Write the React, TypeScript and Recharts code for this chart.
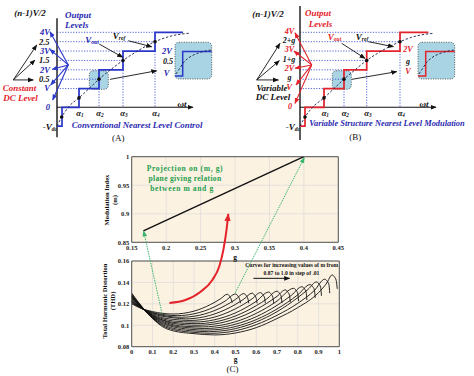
import React from 'react';
import { LineChart, Line, XAxis, YAxis, CartesianGrid, ReferenceArea } from 'recharts';

const SERIF = "'Liberation Serif', 'Times New Roman', serif";
const BLUE = '#2b37c8';
const RED = '#e4232b';
const TXT_BLUE = '#2a2ab0';
const DOT_BLUE = '#3d52d8';
const BOX_FILL = '#a9d4e4';
const GREEN = '#39b46c';
const GREEN_TXT = '#1f9e4e';

// ---------- (A) / (B): x = ωt units from the vertical axis, y = multiples of V
const panelXDomain = [-57, 180];
const panelYDomain = [-2.011, 5.723];
const alphaA = [22, 42, 66, 98];
const alphaB = [24, 44, 66.7, 100];
const stepXA = [0, 5, 22, 42, 66, 98, 126];
const stepXB = [0, 5, 24, 44, 66.7, 100, 128.4];
const stepY = [-1, 0, 1, 2, 3, 4, 4];
const refXA = [0, 4.7, 12, 22, 32, 42, 54, 66, 82, 98, 114, 132];
const refXB = [0, 5, 13.5, 24, 34, 44, 55.5, 66.7, 83, 100, 116, 134];
const refY = [-1, -0.52, 0.05, 0.5, 1.0, 1.5, 2.02, 2.5, 3.05, 3.5, 3.8, 3.95];
const refDotIdx = [1, 3, 5, 7, 9];
const levelY = [1, 1.5, 2, 2.5, 3, 3.5, 4];
const levelEnd = [0, 1, 1, 2, 2, 3, 3];
const zoomBox = [32.3, 51.3, 0.96, 1.95];
const insetBox = [118, 154.7, 1.51, 3.47];
const insetStepX = [118, 125.7, 154.7];
const insetStepY = [1.67, 2.97, 2.97];
const insetRefX = [119, 123, 126, 132, 140, 148, 154.7];
const insetRefY = [1.78, 2.1, 2.35, 2.65, 2.87, 3.0, 3.06];
const axisExtentA = [-1.6, 4.75];
const axisExtentB = [-1.75, 5.4];

// arrows: [x1, y1, x2, y2]
const fanOriginA = [11.3, 2.26];
const fanTipsA = [[-7, 4.03], [-7, 3.09], [-4.7, 2.03], [-6.3, 1.19], [-4.3, 0.39]];
const dcOriginA = [-43.7, 1.46];
const dcTipsA = [[-20.3, 3.32], [-22, 2.52], [-23.7, 1.46]];
const arrowsA = [[42.3, 3.37, 65.7, 2.67], [71.3, 3.55, 94.7, 3.23], [53, 1.49, 99.7, 1.95]];
const fanOriginB = [11.7, 2.26];
const fanTipsB = [[-5, 3.97], [-6, 3.0], [-5, 2.08], [-4, 1.19], [-5, 0.21]];
const dcOriginB = [-43.3, 1.46];
const dcTipsB = [[-20, 3.41], [-20.6, 2.49], [-21.6, 1.46]];
const arrowsB = [[41.7, 3.41, 65, 2.61], [68.4, 3.5, 93.4, 3.23], [51.7, 1.49, 96.7, 1.9]];

// ---------- (C) top: modulation index vs g
const gTicksTop = [0.15, 0.2, 0.25, 0.3, 0.35, 0.4, 0.45];
const mTicks = [0.85, 0.9, 0.95, 1];
const mgLineG = [0.167, 0.4];
const mgLineM = [0.87, 1.0];

// ---------- (C) bottom: THD vs g, one curve per m = 0.87 ... 1.00  [g, THD]
const gTicksBottom = [0, 0.1, 0.2, 0.3, 0.4, 0.5, 0.6, 0.7, 0.8, 0.9, 1];
const thdTicks = [0.08, 0.1, 0.12, 0.14, 0.16];
const m087 = [[0, .120], [.05, .1155], [.1, .1128], [.2, .1105], [.3, .1132], [.38, .1194], [.43, .125], [.46, .129], [.472, .127], [.48, .124], [.484, .121]];
const m088 = [[0, .121], [.05, .1155], [.1, .112], [.15, .110], [.22, .109], [.3, .1107], [.4, .1173], [.45, .1226], [.5, .1292], [.512, .1272], [.52, .1242], [.524, .1207]];
const m089 = [[0, .122], [.05, .1155], [.1, .1115], [.15, .1092], [.24, .1075], [.3, .1084], [.4, .1138], [.5, .1241], [.54, .1296], [.552, .1276], [.56, .1246], [.564, .1206]];
const m090 = [[0, .1225], [.05, .1155], [.1, .1108], [.15, .1083], [.2, .107], [.26, .106], [.3, .1064], [.4, .1106], [.5, .1195], [.54, .1244], [.58, .130], [.592, .128], [.6, .125], [.604, .1205]];
const m091 = [[0, .123], [.05, .1155], [.1, .110], [.15, .107], [.2, .1055], [.28, .1045], [.4, .1077], [.5, .1154], [.58, .1247], [.62, .1305], [.632, .1285], [.64, .1255], [.644, .1205]];
const m092 = [[0, .124], [.05, .116], [.1, .1095], [.15, .106], [.2, .104], [.3, .103], [.4, .1052], [.5, .1116], [.6, .1224], [.66, .131], [.672, .129], [.68, .126], [.684, .1205]];
const m093 = [[0, .125], [.05, .1162], [.1, .109], [.15, .105], [.2, .1027], [.31, .1015], [.4, .1031], [.5, .1087], [.6, .1183], [.65, .1245], [.7, .1318], [.712, .1298], [.72, .1268], [.724, .1208]];
const m094 = [[0, .1255], [.05, .1163], [.1, .1085], [.15, .1045], [.2, .1017], [.32, .100], [.4, .1012], [.5, .1061], [.6, .1147], [.7, .127], [.74, .133], [.752, .131], [.76, .128], [.764, .1215]];
const m095 = [[0, .126], [.05, .1163], [.1, .108], [.15, .1035], [.2, .1005], [.26, .099], [.34, .0985], [.4, .0992], [.5, .1033], [.6, .1111], [.7, .1226], [.78, .1345], [.792, .1325], [.8, .1295], [.804, .1225]];
const m096 = [[0, .127], [.05, .1165], [.1, .1077], [.15, .1025], [.2, .0995], [.27, .0978], [.35, .097], [.4, .0974], [.5, .101], [.6, .108], [.7, .1186], [.77, .1281], [.82, .136], [.832, .134], [.84, .131], [.844, .1235]];
const m097 = [[0, .1275], [.05, .1165], [.1, .1073], [.15, .1015], [.2, .0985], [.28, .0963], [.36, .0955], [.4, .0958], [.5, .0988], [.6, .1053], [.7, .1152], [.8, .1284], [.86, .138], [.872, .136], [.88, .133], [.884, .1255]];
const m098 = [[0, .128], [.05, .1167], [.1, .107], [.15, .1005], [.2, .0972], [.28, .095], [.37, .094], [.4, .0942], [.5, .0969], [.6, .1031], [.7, .1127], [.8, .1258], [.85, .1336], [.89, .1405], [.902, .1385], [.91, .1355], [.914, .1275]];
const m099 = [[0, .129], [.05, .117], [.1, .1067], [.15, .0995], [.2, .096], [.28, .0937], [.38, .0925], [.5, .0949], [.6, .1006], [.7, .1093], [.8, .1205], [.88, .1325], [.93, .143], [.942, .141], [.95, .138], [.954, .130]];
const m100 = [[0, .130], [.05, .1172], [.1, .1065], [.15, .0985], [.2, .0948], [.3, .0922], [.4, .091], [.5, .0928], [.6, .0978], [.7, .1063], [.8, .1165], [.9, .1305], [.94, .1395], [.965, .147], [.977, .145], [.985, .142], [.99, .134]];
const thdCurves = [m087, m088, m089, m090, m091, m092, m093, m094, m095, m096, m097, m098, m099, m100];

// annotations across (C), in the THD chart's coordinates
const overlayYDomain = [0.08, 0.2636];
const greenG1 = [0.1445, 0.0559];
const greenT1 = [0.1112, 0.188];
const greenG2 = [0.4976, 0.83];
const greenT2 = [0.1304, 0.2564];
const redG = [0.18, 0.257, 0.329, 0.387, 0.421, 0.44, 0.454, 0.464];
const redT = [0.1208, 0.1236, 0.1311, 0.1423, 0.1553, 0.1703, 0.1871, 0.2039];
const legendArrowG = [0.585, 0.759];
const legendArrowT = [0.1438, 0.1438];

const toPts = (xs: number[], ys: number[]) => xs.map((x, i) => ({ x, y: ys[i] }));
const seg = (s: number[]) => [{ x: s[0], y: s[1] }, { x: s[2], y: s[3] }];

const boxShape = (p: any) => (
  <rect x={p.x} y={p.y} width={p.width} height={p.height} rx={4} fill={BOX_FILL}
    stroke="#333" strokeWidth={0.8} strokeDasharray="1 1.4" />
);

function Txt({ x, y, c = '#111', s = 9, b = true, i = true, a = 'c', ls = 0, children }: any) {
  const tx = a === 'c' ? '-50%' : a === 'r' ? '-100%' : '0';
  return (
    <div style={{
      position: 'absolute', left: x, top: y, transform: `translate(${tx},-50%)`,
      color: c, fontSize: s, fontWeight: b ? 700 : 400, fontStyle: i ? 'italic' : 'normal',
      fontFamily: SERIF, whiteSpace: 'nowrap', lineHeight: 1, letterSpacing: ls,
    }}>{children}</div>
  );
}

const Sub = ({ children }: any) => <sub style={{ fontSize: '0.62em', verticalAlign: '-0.3em', lineHeight: 0 }}>{children}</sub>;

function LevelPanel(p: any) {
  const ln = (key: string, data: any[], stroke: string, extra: any = {}) => (
    <Line key={key} data={data} dataKey="y" type="linear" stroke={stroke} strokeWidth={1}
      dot={false} activeDot={false} isAnimationActive={false} {...extra} />
  );
  const mk = p.marker;
  return (
    <div style={{ position: 'absolute', left: p.left, top: 0 }}>
      <LineChart width={237} height={145} margin={{ top: 0, right: 0, bottom: 0, left: 0 }}>
        <XAxis type="number" dataKey="x" domain={panelXDomain} hide allowDataOverflow />
        <YAxis type="number" domain={panelYDomain} hide allowDataOverflow />
        <ReferenceArea x1={zoomBox[0]} x2={zoomBox[1]} y1={zoomBox[2]} y2={zoomBox[3]} shape={boxShape} />
        <ReferenceArea x1={insetBox[0]} x2={insetBox[1]} y1={insetBox[2]} y2={insetBox[3]} shape={boxShape} />
        {levelY.map((lv, i) => ln(`lv${i}`, seg([0, lv, p.alpha[levelEnd[i]], lv]), DOT_BLUE, { strokeDasharray: '1.2 1.5', strokeWidth: 0.9 }))}
        {p.alpha.map((a: number, i: number) => ln(`al${i}`, seg([a, i + 1, a, 0]), DOT_BLUE, { strokeDasharray: '1.2 1.5', strokeWidth: 0.9 }))}
        {ln('yax', seg([0, p.axisExtent[0], 0, p.axisExtent[1]]), '#333', { strokeWidth: 1.6 })}
        {ln('xax', seg([0, 0, 136, 0]), '#111', { strokeWidth: 1.1, markerEnd: 'url(#ah-k)' })}
        {ln('step', toPts(p.stepX, stepY), p.color, { type: 'stepAfter', strokeWidth: 1.7 })}
        {ln('ref', toPts(p.refX, refY), '#1d1d50', { type: 'monotone', strokeDasharray: '2.4 1.8', strokeWidth: 0.9 })}
        {ln('dots', refDotIdx.map((k) => ({ x: p.refX[k], y: refY[k] })), 'none', { dot: { r: 1.8, fill: '#111', stroke: 'none' } })}
        {ln('istep', toPts(insetStepX, insetStepY), p.color, { type: 'stepAfter', strokeWidth: 1.5 })}
        {ln('iref', toPts(insetRefX, insetRefY), '#1d1d50', { type: 'monotone', strokeDasharray: '2.4 1.8', strokeWidth: 0.9 })}
        {p.arrows.map((s: number[], i: number) => ln(`ar${i}`, seg(s), '#111', { strokeWidth: 0.9, markerEnd: 'url(#ah-k)' }))}
        {p.fanTips.map((t: number[], i: number) => ln(`fan${i}`, seg([p.fanOrigin[0], p.fanOrigin[1], t[0], t[1]]), p.color, { strokeWidth: 1.1, markerEnd: `url(#${mk})` }))}
        {p.dcTips.map((t: number[], i: number) => ln(`dc${i}`, seg([p.dcOrigin[0], p.dcOrigin[1], t[0], t[1]]), '#111', { strokeWidth: 0.9, markerEnd: 'url(#ah-k)' }))}
      </LineChart>
    </div>
  );
}

const tickStyle = { fontSize: 6.5, fontFamily: SERIF, fontWeight: 700, fill: '#222' };

export default function App() {
  const marker = (id: string, color: string, size: number) => (
    <marker id={id} viewBox="0 0 10 10" refX="9" refY="5" markerUnits="userSpaceOnUse"
      markerWidth={size} markerHeight={size} orient="auto">
      <path d="M0,1 L10,5 L0,9 z" fill={color} />
    </marker>
  );
  return (
    <div style={{ position: 'absolute', left: 0, top: 0, width: 474, height: 376, overflow: 'hidden', background: '#fff' }}>
      <svg width={0} height={0} style={{ position: 'absolute' }}>
        <defs>
          {marker('ah-k', '#111', 6)}
          {marker('ah-b', BLUE, 6)}
          {marker('ah-r', RED, 6)}
          {marker('ah-g', GREEN, 6)}
          {marker('ah-rb', RED, 8)}
        </defs>
      </svg>

      <LevelPanel left={0} alpha={alphaA} stepX={stepXA} refX={refXA} color={BLUE} marker="ah-b"
        fanOrigin={fanOriginA} fanTips={fanTipsA} dcOrigin={dcOriginA} dcTips={dcTipsA}
        arrows={arrowsA} axisExtent={axisExtentA} />
      <LevelPanel left={243.3} alpha={alphaB} stepX={stepXB} refX={refXB} color={RED} marker="ah-r"
        fanOrigin={fanOriginB} fanTips={fanTipsB} dcOrigin={dcOriginB} dcTips={dcTipsB}
        arrows={arrowsB} axisExtent={axisExtentB} />

      {/* (A) texts */}
      <Txt x={30} y={13}>(n-1)V/2</Txt>
      <Txt x={65} y={15} a="l" c={TXT_BLUE}>Output</Txt>
      <Txt x={65} y={25} a="l" c={TXT_BLUE}>Levels</Txt>
      <Txt x={50} y={32.3} a="r" s={8.5} c={TXT_BLUE}>4V</Txt>
      <Txt x={49.5} y={41.7} a="r" s={8.5}>2.5</Txt>
      <Txt x={50} y={50.7} a="r" s={8.5} c={TXT_BLUE}>3V</Txt>
      <Txt x={49.5} y={60} a="r" s={8.5}>1.5</Txt>
      <Txt x={50} y={69.5} a="r" s={8.5} c={TXT_BLUE}>2V</Txt>
      <Txt x={49.5} y={79.3} a="r" s={8.5}>0.5</Txt>
      <Txt x={50} y={88.3} a="r" s={8.5} c={TXT_BLUE}>V</Txt>
      <Txt x={50} y={106.5} a="r" s={8.5} c={TXT_BLUE}>0</Txt>
      <Txt x={19.5} y={88.3} c={RED}>Constant</Txt>
      <Txt x={20.5} y={98.3} c={RED}>DC Level</Txt>
      <Txt x={57} y={127} a="r">-V<Sub>dc</Sub></Txt>
      <Txt x={182} y={104}>ωt</Txt>
      {alphaA.map((a, i) => <Txt key={i} x={57 + a + 1} y={112.5} s={8.5}>α<Sub>{i + 1}</Sub></Txt>)}
      <Txt x={137} y={124.5} s={8.8} c={TXT_BLUE}>Conventional Nearest Level Control</Txt>
      <Txt x={118.3} y={138} b={false} i={false}>(A)</Txt>
      <Txt x={92} y={39.5} c={TXT_BLUE}>V<Sub>out</Sub></Txt>
      <Txt x={119} y={36}>V<Sub>ref</Sub></Txt>
      <Txt x={167} y={50.5} s={8.5} c={TXT_BLUE}>2V</Txt>
      <Txt x={168} y={62.2} s={8.2}>0.5</Txt>
      <Txt x={166.5} y={72.6} s={8.5} c={TXT_BLUE}>V</Txt>

      {/* (B) texts */}
      <Txt x={268} y={14}>(n-1)V/2</Txt>
      <Txt x={305} y={13.3} a="l" c={RED}>Output</Txt>
      <Txt x={308.7} y={24} a="l" c={RED}>Levels</Txt>
      <Txt x={294.3} y={31.5} a="r" s={8.2} c={RED}>4V</Txt>
      <Txt x={295.3} y={41.4} a="r" s={8}>2+g</Txt>
      <Txt x={294.3} y={50.4} a="r" s={8.2} c={RED}>3V</Txt>
      <Txt x={295.3} y={59.8} a="r" s={8}>1+g</Txt>
      <Txt x={294.3} y={69.2} a="r" s={8.2} c={RED}>2V</Txt>
      <Txt x={291.5} y={78.3} a="r" s={8}>g</Txt>
      <Txt x={292} y={87.8} a="r" s={8.2} c={RED}>V</Txt>
      <Txt x={292} y={106.7} a="r" s={8.2} c={RED}>0</Txt>
      <Txt x={272} y={88.3}>Variable</Txt>
      <Txt x={273} y={97.3}>DC Level</Txt>
      <Txt x={300} y={127.3} a="r">-V<Sub>dc</Sub></Txt>
      <Txt x={424} y={104}>ωt</Txt>
      {alphaB.map((a, i) => <Txt key={i} x={300.3 + a + 1} y={112.5} s={8.5}>α<Sub>{i + 1}</Sub></Txt>)}
      <Txt x={387} y={123.5} c={TXT_BLUE} s={8.4}>Variable Structure Nearest Level Modulation</Txt>
      <Txt x={355.3} y={137} b={false} i={false}>(B)</Txt>
      <Txt x={334.5} y={37.3} c={RED}>V<Sub>out</Sub></Txt>
      <Txt x={362} y={36.7}>V<Sub>ref</Sub></Txt>
      <Txt x={408} y={50} s={8.2} c={RED}>2V</Txt>
      <Txt x={408} y={61.6} s={8}>g</Txt>
      <Txt x={408} y={71.6} s={8.2} c={RED}>V</Txt>

      {/* (C) top chart */}
      <div style={{ position: 'absolute', left: 100, top: 145 }}>
        <LineChart width={260} height={115} margin={{ top: 11.7, right: 21.7, bottom: 0, left: 0 }}>
          <CartesianGrid stroke="#d6d6d6" strokeWidth={0.6} fill="#fbf2e2" />
          <XAxis type="number" dataKey="g" domain={[0.15, 0.45]} ticks={gTicksTop} allowDataOverflow interval={0}
            height={17.7} tick={tickStyle} tickLine={false} tickSize={3} tickMargin={0} axisLine={false} />
          <YAxis type="number" domain={[0.85, 1]} ticks={mTicks} allowDataOverflow interval={0}
            width={31.7} tick={tickStyle} tickLine={false} tickSize={2.5} tickMargin={0} axisLine={false} />
          <ReferenceArea x1={0.15} x2={0.45} y1={0.85} y2={1} fill="none" stroke="#444" strokeWidth={0.9} fillOpacity={0} />
          <Line data={mgLineG.map((g, i) => ({ g, m: mgLineM[i] }))} dataKey="m" type="linear" stroke="#111"
            strokeWidth={1.4} dot={false} activeDot={false} isAnimationActive={false} />
        </LineChart>
      </div>

      {/* (C) bottom chart */}
      <div style={{ position: 'absolute', left: 100, top: 250 }}>
        <LineChart width={260} height={126} margin={{ top: 11, right: 20.7, bottom: 0, left: 0 }}>
          <CartesianGrid stroke="#d6d6d6" strokeWidth={0.6} fill="#fbf2e2" />
          <XAxis type="number" dataKey="g" domain={[0, 1]} ticks={gTicksBottom} allowDataOverflow interval={0}
            height={29.3} tick={tickStyle} tickLine={false} tickSize={3} tickMargin={0} axisLine={false} />
          <YAxis type="number" domain={[0.08, 0.16]} ticks={thdTicks} allowDataOverflow interval={0}
            width={31.7} tick={tickStyle} tickLine={false} tickSize={2.5} tickMargin={0} axisLine={false} />
          <ReferenceArea x1={0} x2={1} y1={0.08} y2={0.16} fill="none" stroke="#444" strokeWidth={0.9} fillOpacity={0} />
          {thdCurves.map((c, i) => (
            <Line key={i} data={c.map(([g, t]) => ({ g, thd: t }))} dataKey="thd" type="monotone" stroke="#111"
              strokeWidth={0.9} dot={false} activeDot={false} isAnimationActive={false} />
          ))}
        </LineChart>
      </div>

      {/* (C) cross-chart annotations */}
      <div style={{ position: 'absolute', left: 131.7, top: 150 }}>
        <LineChart width={207.6} height={196.7} margin={{ top: 0, right: 0, bottom: 0, left: 0 }}>
          <XAxis type="number" dataKey="x" domain={[0, 1]} hide allowDataOverflow />
          <YAxis type="number" domain={overlayYDomain} hide allowDataOverflow />
          <Line data={toPts(greenG1, greenT1)} dataKey="y" stroke={GREEN} strokeWidth={1} strokeDasharray="1.5 1"
            dot={false} activeDot={false} isAnimationActive={false} markerEnd="url(#ah-g)" />
          <Line data={toPts(greenG2, greenT2)} dataKey="y" stroke={GREEN} strokeWidth={1} strokeDasharray="1.5 1"
            dot={false} activeDot={false} isAnimationActive={false} markerEnd="url(#ah-g)" />
          <Line data={toPts(redG, redT)} dataKey="y" type="monotone" stroke={RED} strokeWidth={2}
            dot={false} activeDot={false} isAnimationActive={false} markerEnd="url(#ah-rb)" />
          <Line data={toPts(legendArrowG, legendArrowT)} dataKey="y" stroke="#111" strokeWidth={1}
            dot={false} activeDot={false} isAnimationActive={false} markerEnd="url(#ah-k)" />
        </LineChart>
      </div>

      {/* (C) texts */}
      <Txt x={185} y={169} c={GREEN_TXT} s={7.6} i={false} ls={0.6}>Projection on (m, g)</Txt>
      <Txt x={185} y={179.3} c={GREEN_TXT} s={7.6} i={false} ls={0.3}>plane giving relation</Txt>
      <Txt x={182} y={189} c={GREEN_TXT} s={7.6} i={false} ls={0.6}>between m and g</Txt>
      <div style={{ position: 'absolute', left: 111, top: 200, transform: 'translate(-50%,-50%) rotate(-90deg)',
        fontFamily: SERIF, fontWeight: 700, fontSize: 6.6, lineHeight: 1.15, textAlign: 'center', whiteSpace: 'nowrap', color: '#111' }}>
        Modulation Index<br />(m)
      </div>
      <div style={{ position: 'absolute', left: 109, top: 301, transform: 'translate(-50%,-50%) rotate(-90deg)',
        fontFamily: SERIF, fontWeight: 700, fontSize: 6.6, lineHeight: 1.15, textAlign: 'center', whiteSpace: 'nowrap', color: '#111' }}>
        Total Harmonic Distortion<br />(THD)
      </div>
      <Txt x={235} y={257.5} s={7.5} i={false}>g</Txt>
      <Txt x={235.5} y={360} s={7.5} i={false}>g</Txt>
      <Txt x={291.7} y={266} s={5.6} i={false}>Curves for increasing values of m from</Txt>
      <Txt x={291.5} y={273.5} s={5.6} i={false}>0.87 to 1.0 in step of .01</Txt>
      <Txt x={232.5} y={369} b={false} i={false} s={9}>(C)</Txt>
    </div>
  );
}
